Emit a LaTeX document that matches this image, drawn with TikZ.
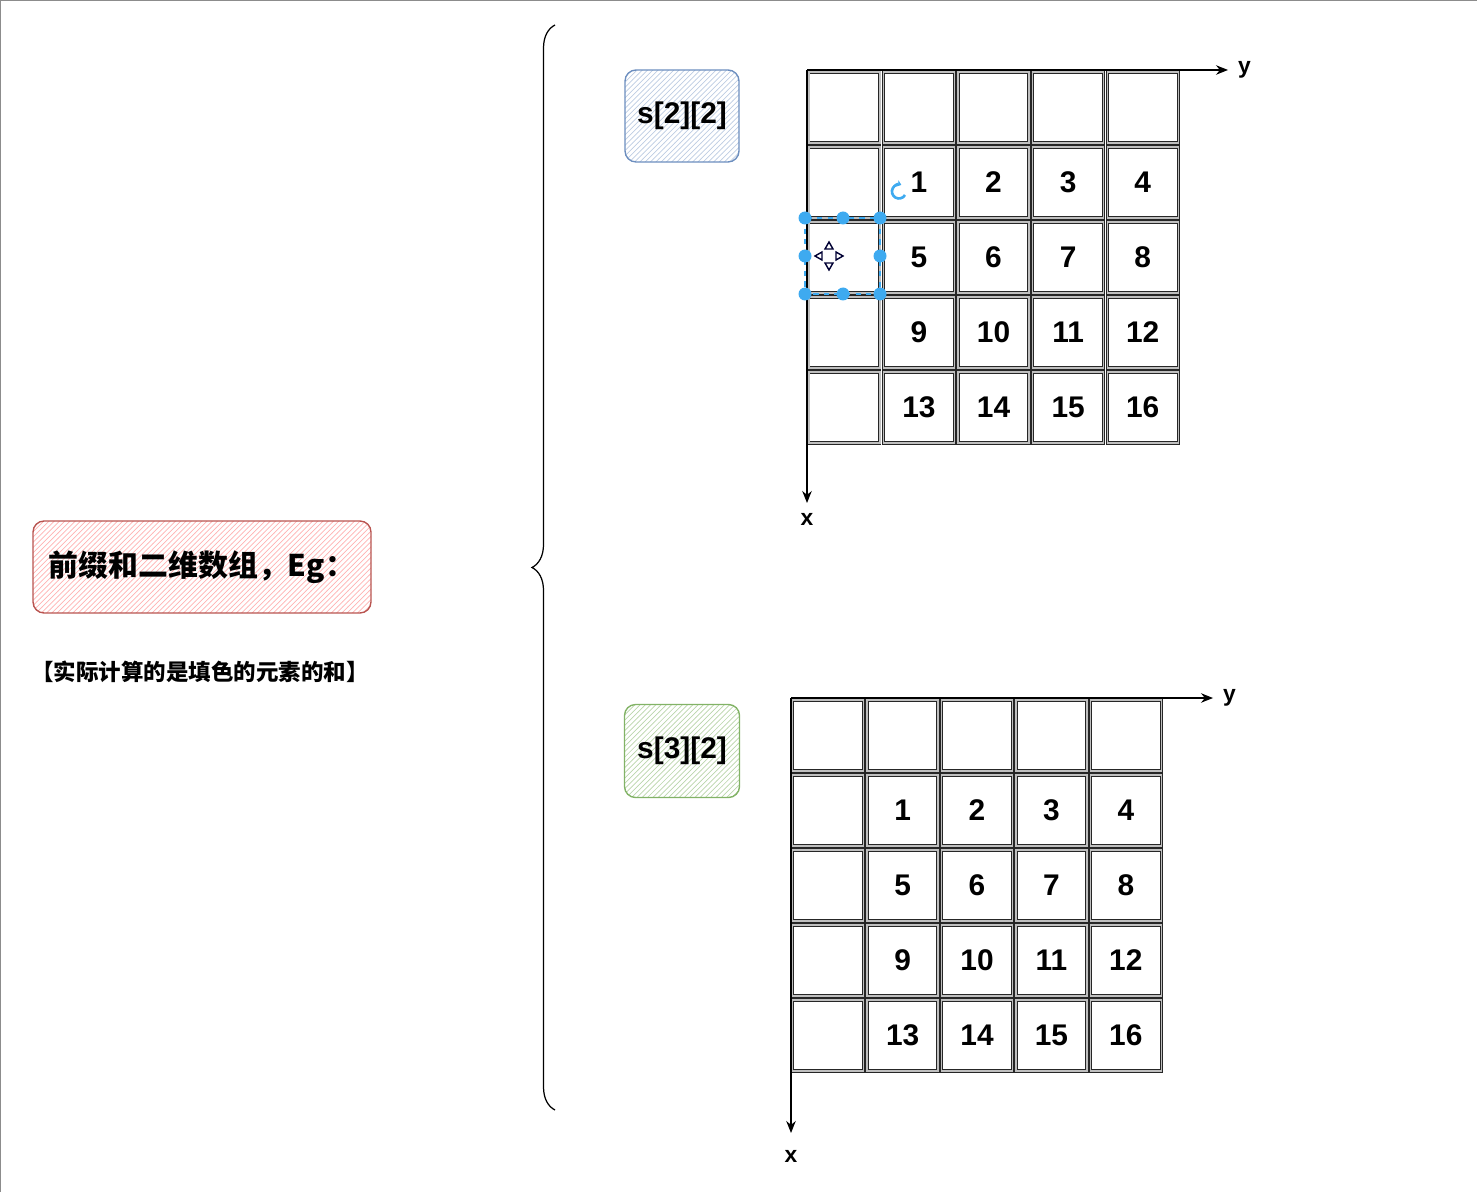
\documentclass[tikz,border=0pt]{standalone}
\usepackage{fontspec}
\setmainfont{Liberation Sans}
\newfontfamily\cjk{Noto Sans CJK SC}
\usetikzlibrary{arrows.meta,patterns,decorations.pathreplacing}
\definecolor{selblue}{RGB}{62,170,240}
\definecolor{tagblue}{HTML}{6C8EBF}
\definecolor{taggreen}{HTML}{82B366}
\definecolor{tagred}{HTML}{B85450}
\tikzset{
	cell/.style={draw=black!85,double=black!25,double distance=0.8pt,line width=0.55pt,
		minimum width=1.42cm,minimum height=1.42cm,inner sep=0pt,
		font=\bfseries\fontsize{17}{17}\selectfont},
	tagbox/.style={rounded corners=0.22cm,line width=0.8pt,pattern=north east lines,
		inner sep=0pt,font=\bfseries\fontsize{17}{17}\selectfont},
	axlabel/.style={font=\bfseries\fontsize{13}{13}\selectfont}
}
\begin{document}
\begin{tikzpicture}[>={Stealth[length=0.24cm,width=0.19cm]},x=0.02cm,y=-0.02cm]
	\useasboundingbox (0,0) rectangle (1477,1192);
	\draw[black!45] (0.5,1192) -- (0.5,0.5) -- (1477,0.5);
	% left part
	\node[tagbox,draw=tagred,pattern color=red!30,minimum width=6.76cm,minimum height=1.84cm] (title) at (202,567)
		{\cjk\bfseries\fontsize{17}{17}\selectfont 前缀和二维数组，Eg：};
	\node (note) at (200,672) {\cjk\bfseries\fontsize{12.8}{12.8}\selectfont 【实际计算的是填色的元素的和】};
	\draw[decorate,decoration={brace,amplitude=0.46cm,aspect=0.5},line width=0.7pt] (555,1110) -- (555,25);
	% first grid
	\node[tagbox,draw=tagblue,pattern color=tagblue!45,minimum width=2.28cm,minimum height=1.84cm] (sA) at (682,116) {s[2][2]};
	\foreach \r in {0,...,4}
		\foreach \c in {0,...,4}{
			\pgfmathtruncatemacro\n{(\r>0)*(\c>0)*((\r-1)*4+\c)}
			\node[cell] (a-\r-\c) at (807+37.3+74.6*\c,70+37.5+75*\r) {\ifnum\n>0 \n\fi};
		}
	\coordinate (oA) at (807,70);
	\coordinate (yA) at (1228,70);
	\coordinate (xA) at (807,503);
	\draw[->,line width=0.7pt] (oA) -- (yA) node[right,axlabel,xshift=2pt]{y};
	\draw[->,line width=0.7pt] (oA) -- (xA) node[below,axlabel,yshift=-2pt]{x};
	% selection marks
	\draw[selblue,dashed,line width=0.8pt] (805,218) rectangle (880,294);
	\foreach \hx/\hy in {805/218,843/218,880/218,805/256,880/256,805/294,843/294,880/294}
		\fill[selblue] (\hx,\hy) circle[radius=0.13cm];
	\foreach \ang in {0,90,180,270}
		\draw[black!80!blue,line width=0.8pt,shift={(829,256)},rotate=\ang] (7,-4) -- (14,0) -- (7,4) -- cycle;
	\draw[selblue,line width=1.5pt,-{Stealth[length=0.09cm,width=0.14cm]}] (905,195) arc[start angle=-30,end angle=-290,radius=0.14cm];
	% second grid
	\node[tagbox,draw=taggreen,pattern color=taggreen!55,minimum width=2.3cm,minimum height=1.86cm] (sB) at (682,751) {s[3][2]};
	\foreach \r in {0,...,4}
		\foreach \c in {0,...,4}{
			\pgfmathtruncatemacro\n{(\r>0)*(\c>0)*((\r-1)*4+\c)}
			\node[cell] (b-\r-\c) at (791+37.2+74.4*\c,698+37.5+75*\r) {\ifnum\n>0 \n\fi};
		}
	\coordinate (oB) at (791,698);
	\coordinate (yB) at (1213,698);
	\coordinate (xB) at (791,1133);
	\draw[->,line width=0.7pt] (oB) -- (yB) node[right,axlabel,xshift=2pt]{y};
	\draw[->,line width=0.7pt] (oB) -- (xB) node[below,axlabel,yshift=-6pt]{x};
\end{tikzpicture}
\end{document}
